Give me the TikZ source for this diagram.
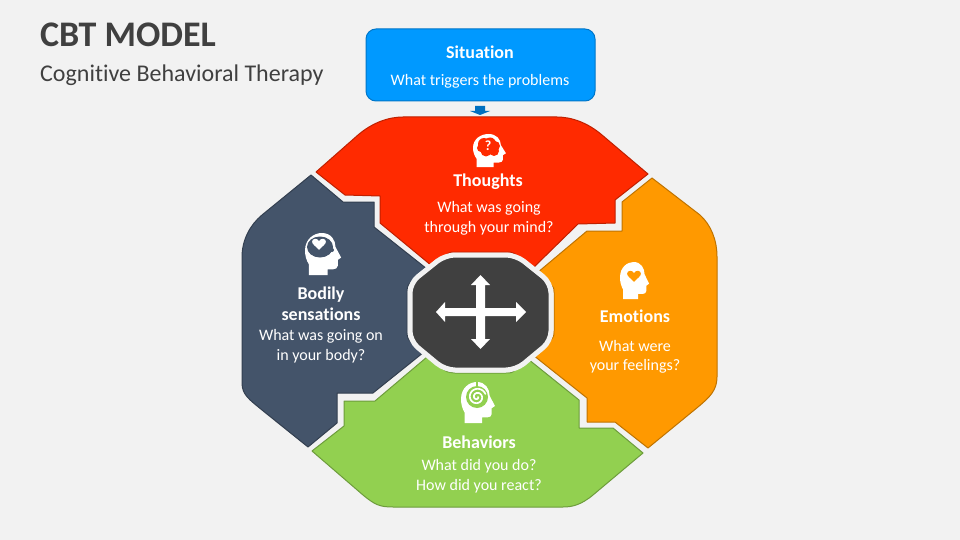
\documentclass[tikz,border=0pt]{standalone}
\usepackage{fontspec}
\setmainfont{Carlito}[Ligatures=CommonOff]
\usetikzlibrary{positioning}

\definecolor{bgcol}{HTML}{F2F2F2}
\definecolor{redcol}{HTML}{FF2A00}
\definecolor{orgcol}{HTML}{FF9900}
\definecolor{grncol}{HTML}{92D050}
\definecolor{navcol}{HTML}{44546A}
\definecolor{blucol}{HTML}{0099FF}
\definecolor{bluedge}{HTML}{0070C0}
\definecolor{darkcol}{HTML}{404040}

\tikzset{
  panel/.style={line width=1pt,line join=round},
  ttl/.style={font=\bfseries\fontsize{18}{21}\selectfont,color=white,align=center,inner sep=0pt},
  txt/.style={font=\fontsize{16}{19.5}\selectfont,color=white,align=center,inner sep=0pt},
  headpic/.pic={
    \fill[white] (3.5,36) -- (3.5,27) .. controls (1,23) and (0,19) .. (0,15)
      .. controls (0,5) and (8,0) .. (15,0) .. controls (23,0) and (27,6) .. (27,12)
      -- (32,21) -- (29,23) -- (29,28) .. controls (29,30) and (27,31) .. (25,31)
      -- (20,31) -- (20,36) -- cycle;
  },
  heartpic/.pic={
    \fill[pic actions] (0,5) .. controls (-3,2) and (-6,0) .. (-6,-2) .. controls (-6,-5) and (-1.5,-5.5) .. (0,-2.5)
      .. controls (1.5,-5.5) and (6,-5) .. (6,-2) .. controls (6,0) and (3,2) .. (0,5) -- cycle;
  }
}

\begin{document}
\begin{tikzpicture}[x=1pt,y=-1pt]
  \useasboundingbox (0,0) rectangle (960,540);
  \fill[bgcol] (0,0) rectangle (960,540);

  \node (title) [anchor=west,inner sep=0pt,font=\bfseries\fontsize{36}{40}\selectfont,color=darkcol] at (40,35) {CBT MODEL};
  \node (subtitle) [anchor=west,inner sep=0pt,font=\fontsize{24}{28}\selectfont,color=darkcol] at (40,75) {Cognitive Behavioral Therapy};

  \node (sit) [draw=bluedge!85!blucol,fill=blucol,rounded corners=10pt,line width=1pt,minimum width=229pt,minimum height=72pt,inner sep=0pt] at (480.5,65) {};
  \node (sit_t) [ttl] at (480,52) {Situation};
  \node (sit_d) [txt] at (480,81) {What triggers the problems};
  \fill[bluedge] (475,106) -- (485,106) -- (485,111) -- (490,111) -- (480,115) -- (470,111) -- (475,111) -- cycle;

  % thoughts
  \draw[panel,fill=redcol,draw=redcol!75!black] (316,172) -- (358,135) .. controls (372,123) and (388,117) .. (403,117)
    -- (557,117) .. controls (572,117) and (588,123) .. (602,135) -- (648,174) -- (615,200) -- (615,223) -- (578,224)
    -- (533,268) -- (515,254) .. controls (511,252) .. (505,252) -- (456,252) .. controls (450,252) .. (446,255)
    -- (432,266) -- (380,223) -- (380,196) -- (345,195) -- cycle;
  % emotions
  \draw[panel,fill=orgcol,draw=orgcol!75!black] (652,178) -- (700,215) .. controls (711,225) and (717,240) .. (717,257)
    -- (717,377) .. controls (717,390) and (710,397) .. (698,407) -- (648,448) -- (615,422) -- (587,422) -- (587,398)
    -- (533,355) -- (551,340) .. controls (554,336) .. (554,330) -- (554,293) .. controls (554,288) .. (551,285)
    -- (537,273) -- (587,231) -- (622,231) -- (622,202) -- cycle;
  % behaviors
  \draw[panel,fill=grncol,draw=grncol!75!black] (312,451) -- (344,426) -- (344,401) -- (375,401) -- (427,357)
    -- (443,369) .. controls (447,372) .. (455,373) -- (505,373) .. controls (512,373) .. (516,369) -- (528,359)
    -- (579,400) -- (579,428) -- (613,428) -- (643,453)
    -- (593,495) .. controls (581,505) and (572,507) .. (563,507) -- (393,507) .. controls (380,507) and (375,505) .. (363,495) -- cycle;
  % bodily
  \draw[panel,fill=navcol,draw=navcol!75!black] (311,175) -- (343,202) -- (374,202) -- (374,227) -- (427,269)
    -- (411,282) .. controls (408,285) .. (407,290) -- (407,334) .. controls (408,339) .. (411,342) -- (424,352)
    -- (373,393) -- (337,393) -- (337,423) -- (308,447)
    -- (262,410) .. controls (250,400) and (242,395) .. (242,383) -- (242,257) .. controls (242,240) and (250,225) .. (262,215) -- cycle;

  % center
  \draw[line width=5pt,draw=bgcol,fill=darkcol,rounded corners=10pt,line join=round] (445,255) -- (516,255) -- (551,283) -- (551,341)
    -- (516,370) -- (445,370) -- (410,341) -- (410,283) -- cycle;
  \fill[white] (476,316) -- (476,339) -- (471,339) -- (480.5,349) -- (490,339) -- (485,339) -- (485,316) -- (516,316) -- (516,322) -- (526,312)
    -- (516,302) -- (516,308) -- (485,308) -- (485,285) -- (490,285) -- (480.5,275) -- (471,285) -- (476,285) -- (476,308)
    -- (445,308) -- (445,302) -- (436,312) -- (445,322) -- (445,316) -- cycle;

  % icons
  \pic (head_1) [xscale=1.03,yscale=0.92] at (473,134) {headpic};
  \foreach \cx/\cy/\cr in {484/144/6,490/143.5/6,495/146/5,494/151/5,486/151/5.5,481/148/4}
    \fill[redcol] (\cx,\cy) circle (\cr);
  \node (quest) [inner sep=0pt,font=\bfseries\fontsize{14}{14}\selectfont,color=white] at (488,146) {?};

  \pic (head_2) [xscale=1.13,yscale=1.17] at (305,233) {headpic};
  \fill[navcol] (320,247) ellipse (13 and 10.5);
  \fill[navcol] (332,250) circle (2);
  \pic (heart_2) [fill=white,scale=1.15] at (319,244) {heartpic};

  \pic (head_3) [xscale=0.91,yscale=1.03] at (620,262) {headpic};
  \pic (heart_3) [fill=orgcol,scale=1.15] at (634,276) {heartpic};

  \pic (head_4) [xscale=1.06,yscale=1.14] at (461,382) {headpic};
  \fill[grncol] (477,397) circle (11);
  \fill[grncol] (476,381) rectangle (478,387);
  \draw[white,line width=1.7pt,line cap=round] plot[smooth,samples=70,domain=0:700] ({477+(1+\x/88)*cos(\x)},{397+(1+\x/88)*sin(\x)});

  \node (tho_t) [ttl] at (488,182) {Thoughts};
  \node (tho_d) [txt] at (489,218.5) {What was going\\through your mind?};
  \node (bod_t) [ttl] at (321,304) {Bodily\\sensations};
  \node (bod_d) [txt] at (321,346) {What was going on\\in your body?};
  \node (emo_t) [ttl] at (635,316) {Emotions};
  \node (emo_d) [txt] at (635,357) {What were\\your feelings?};
  \node (beh_t) [ttl] at (479,442) {Behaviors};
  \node (beh_d) [txt] at (479,476) {What did you do?\\How did you react?};
\end{tikzpicture}
\end{document}
